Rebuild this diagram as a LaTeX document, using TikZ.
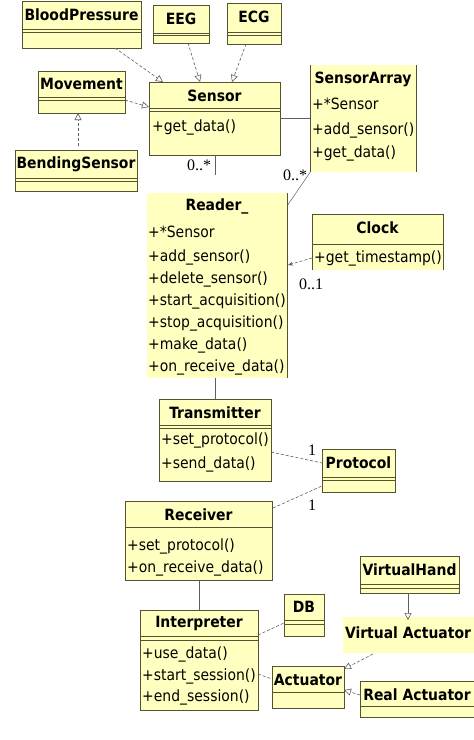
\documentclass[tikz,border=0pt]{standalone}
\usepackage{fontspec}
\setmainfont{DejaVu Sans Condensed}
\newfontfamily\lblfont{Liberation Serif}
\usetikzlibrary{arrows.meta,calc}
\definecolor{cfill}{RGB}{255,255,192}
\definecolor{cedge}{RGB}{85,82,50}
\definecolor{cline}{RGB}{95,95,95}
\begin{document}
\begin{tikzpicture}[x=1pt,y=-1pt,
  font=\fontsize{15.5}{18}\selectfont,
  cls/.style={draw=cedge, fill=cfill, line width=0.9pt, inner sep=0pt, outer sep=0pt, anchor=north west},
  clsf/.style={fill=cfill, draw=none, inner sep=0pt, outer sep=0pt, anchor=north west},
  ttl/.style={font=\fontsize{15.5}{18}\selectfont\bfseries, inner sep=0pt},
  itm/.style={anchor=west, inner sep=0pt},
  sepl/.style={draw=cedge, line width=0.8pt},
  real/.style={draw=cline, line width=0.6pt, dash pattern=on 3pt off 2pt, -{Triangle[open,length=7pt,width=7pt]}},
  realsolid/.style={draw=cline, line width=0.6pt, -{Triangle[open,length=7pt,width=7pt]}},
  assoc/.style={draw=cline, line width=0.8pt},
  thin/.style={draw=cline, line width=0.5pt},
  dep/.style={draw=cline, line width=0.6pt, dash pattern=on 3pt off 2pt},
  lbl/.style={font=\fontsize{16}{18}\selectfont\lblfont, inner sep=0pt}]
\useasboundingbox[fill=white] (0,0) rectangle (474,740);

% ---------- BloodPressure
\node[cls, minimum width=119pt, minimum height=47pt] (bp) at (22,1) {};
\node[ttl] (bpT) at (81.5,15) {BloodPressure};
\draw[sepl] (22,29) -- (141,29) (22,32) -- (141,32);
% ---------- EEG
\node[cls, minimum width=56pt, minimum height=38pt] (eeg) at (153,5) {};
\node[ttl] (eegT) at (181,19) {EEG};
\draw[sepl] (153,33) -- (209,33) (153,35.5) -- (209,35.5);
% ---------- ECG
\node[cls, minimum width=54pt, minimum height=41pt] (ecg) at (227,3) {};
\node[ttl] (ecgT) at (254,17) {ECG};
\draw[sepl] (227,32) -- (281,32) (227,35) -- (281,35);
% ---------- Movement
\node[cls, minimum width=87pt, minimum height=42pt] (mov) at (38,71) {};
\node[ttl] (movT) at (81.5,84) {Movement};
\draw[sepl] (38,97) -- (125,97) (38,100) -- (125,100);
% ---------- BendingSensor
\node[cls, minimum width=122pt, minimum height=41pt] (bend) at (15,150) {};
\node[ttl] (bendT) at (76,164) {BendingSensor};
\draw[sepl] (15,178) -- (137,178) (15,181) -- (137,181);
% ---------- Sensor
\node[cls, minimum width=131pt, minimum height=73pt] (sensor) at (149,82) {};
\node[ttl] (sensorT) at (214.5,96) {Sensor};
\draw[sepl] (149,108) -- (280,108) (149,111.5) -- (280,111.5);
\node[itm] (sensorI1) at (152,127) {+get\_data()};
% ---------- SensorArray
\node[clsf, minimum width=106pt, minimum height=107pt] (sa) at (310,65) {};
\draw[sepl] (310,65) -- (310,172) (416,65) -- (416,172);
\node[ttl] (saT) at (363,79) {SensorArray};
\node[itm] (saI1) at (312,104) {+*Sensor};
\node[itm] (saI2) at (312,130) {+add\_sensor()};
\node[itm] (saI3) at (312,153) {+get\_data()};
% ---------- Reader_
\node[clsf, minimum width=140pt, minimum height=185pt] (reader) at (147,193) {};
\draw[sepl] (287,193) -- (287,378);
\node[ttl] (readerT) at (217,206) {Reader\_};
\node[itm] (rI1) at (148,232) {+*Sensor};
\node[itm] (rI2) at (148,257) {+add\_sensor()};
\node[itm] (rI3) at (148,279) {+delete\_sensor()};
\node[itm] (rI4) at (148,301) {+start\_acquisition()};
\node[itm] (rI5) at (148,323) {+stop\_acquisition()};
\node[itm] (rI6) at (148,345) {+make\_data()};
\node[itm] (rI7) at (148,367) {+on\_receive\_data()};
% ---------- Clock
\node[clsf, minimum width=131pt, minimum height=56pt] (clock) at (312,214) {};
\draw[sepl] (312,270) -- (312,214) -- (443,214) -- (443,270);
\draw[sepl] (312,244) -- (443,244);
\node[ttl] (clockT) at (377.5,228) {Clock};
\node[itm] (clockI1) at (314,258) {+get\_timestamp()};
% ---------- Transmitter
\node[cls, minimum width=112pt, minimum height=82pt] (trans) at (159,399) {};
\node[ttl] (transT) at (215,413) {Transmitter};
\draw[sepl] (159,425) -- (271,425) (159,428) -- (271,428);
\node[itm] (tI1) at (161,440) {+set\_protocol()};
\node[itm] (tI2) at (161,464) {+send\_data()};
% ---------- Protocol
\node[cls, minimum width=73pt, minimum height=43pt] (proto) at (322,449) {};
\node[ttl] (protoT) at (358.5,463) {Protocol};
\draw[sepl] (322,477) -- (395,477) (322,480) -- (395,480);
% ---------- Receiver
\node[cls, minimum width=147pt, minimum height=79pt] (recv) at (125,501) {};
\node[ttl] (recvT) at (198.5,515) {Receiver};
\draw[sepl] (125,527) -- (272,527);
\node[itm] (recvI1) at (127,546) {+set\_protocol()};
\node[itm] (recvI2) at (127,568) {+on\_receive\_data()};
% ---------- Interpreter
\node[cls, minimum width=118pt, minimum height=100pt] (interp) at (140,610) {};
\node[ttl] (interpT) at (199,623) {Interpreter};
\draw[sepl] (140,636) -- (258,636) (140,640) -- (258,640);
\node[itm] (iI1) at (142,654) {+use\_data()};
\node[itm] (iI2) at (142,676) {+start\_session()};
\node[itm] (iI3) at (142,697) {+end\_session()};
% ---------- DB
\node[cls, minimum width=40pt, minimum height=42pt] (db) at (284,594) {};
\node[ttl] (dbT) at (304,607) {DB};
\draw[sepl] (284,620) -- (324,620) (284,624) -- (324,624);
% ---------- VirtualHand
\node[cls, minimum width=99pt, minimum height=37pt] (vh) at (360,556) {};
\node[ttl] (vhT) at (409.5,570) {VirtualHand};
\draw[sepl] (360,584) -- (459,584) (360,588) -- (459,588);
% ---------- Virtual Actuator
\node[clsf, minimum width=131pt, minimum height=36pt] (va) at (343,617) {};
\node[ttl] (vaT) at (408,633) {Virtual Actuator};
% ---------- Actuator
\node[cls, minimum width=72pt, minimum height=42pt] (act) at (272,666) {};
\node[ttl] (actT) at (308,680) {Actuator};
\draw[sepl] (272,692) -- (344,692);
% ---------- Real Actuator
\node[cls, minimum width=116pt, minimum height=36pt] (ra) at (360,681) {};
\node[ttl] (raT) at (417,695) {Real Actuator};
\draw[sepl] (360,706) -- (476,706);

% ---------- connectors
\draw[real] ($(bp.south west)+(93,0)$) -- ($(sensor.north west)+(14,0)$);
\draw[real] ($(eeg.south west)+(35,0)$) -- ($(sensor.north west)+(51,0)$);
\draw[real] ($(ecg.south west)+(19,0)$) -- ($(sensor.north west)+(83,0)$);
\draw[real] ($(mov.north east)+(0,29)$) -- ($(sensor.north west)+(0,25)$);
\draw[real] ($(bend.north west)+(63,-4)$) -- ($(mov.south west)+(40,0)$);
\draw[assoc] ($(sensor.north east)+(0,36)$) -- ($(sa.north west)+(0,53)$);
\coordinate (stub) at (215,175);
\draw[assoc] ($(sensor.south west)+(66,0)$) -- (stub);
\node[lbl] (m1) at (199,165) {0..*};
\draw[thin] ($(sa.south west)+(1,-1)$) -- ($(reader.north east)+(0,13)$);
\node[lbl] (m2) at (295,175) {0..*};
\draw[dep, -{Stealth[length=5pt,width=4pt]}] ($(clock.north west)+(0,44)$) -- ($(reader.north east)+(1,72)$);
\node[lbl] (m3) at (311,284) {0..1};
\draw[assoc] ($(reader.south west)+(68,0)$) -- ($(trans.north west)+(56,0)$);
\draw[dep] ($(trans.north east)+(0,53)$) -- ($(proto.north west)+(0,14)$);
\node[lbl] (m4) at (312,450) {1};
\draw[dep] ($(recv.north east)+(1,7)$) -- ($(proto.north west)+(0,37)$);
\node[lbl] (m5) at (312,505) {1};
\draw[assoc] ($(recv.south west)+(74,0)$) -- ($(interp.north west)+(59,0)$);
\draw[dep] ($(interp.north east)+(0,25)$) -- ($(db.north west)+(0,29)$);
\draw[dep] ($(interp.north east)+(0,64)$) -- ($(act.north west)+(0,13)$);
\draw[realsolid] ($(vh.south west)+(48,0)$) -- ($(va.north west)+(65,3)$);
\draw[real] ($(va.south west)+(30,1)$) -- ($(act.north east)+(0,3)$);
\draw[real] ($(ra.north west)+(0,14)$) -- ($(act.north east)+(0,24)$);
\end{tikzpicture}
\end{document}
